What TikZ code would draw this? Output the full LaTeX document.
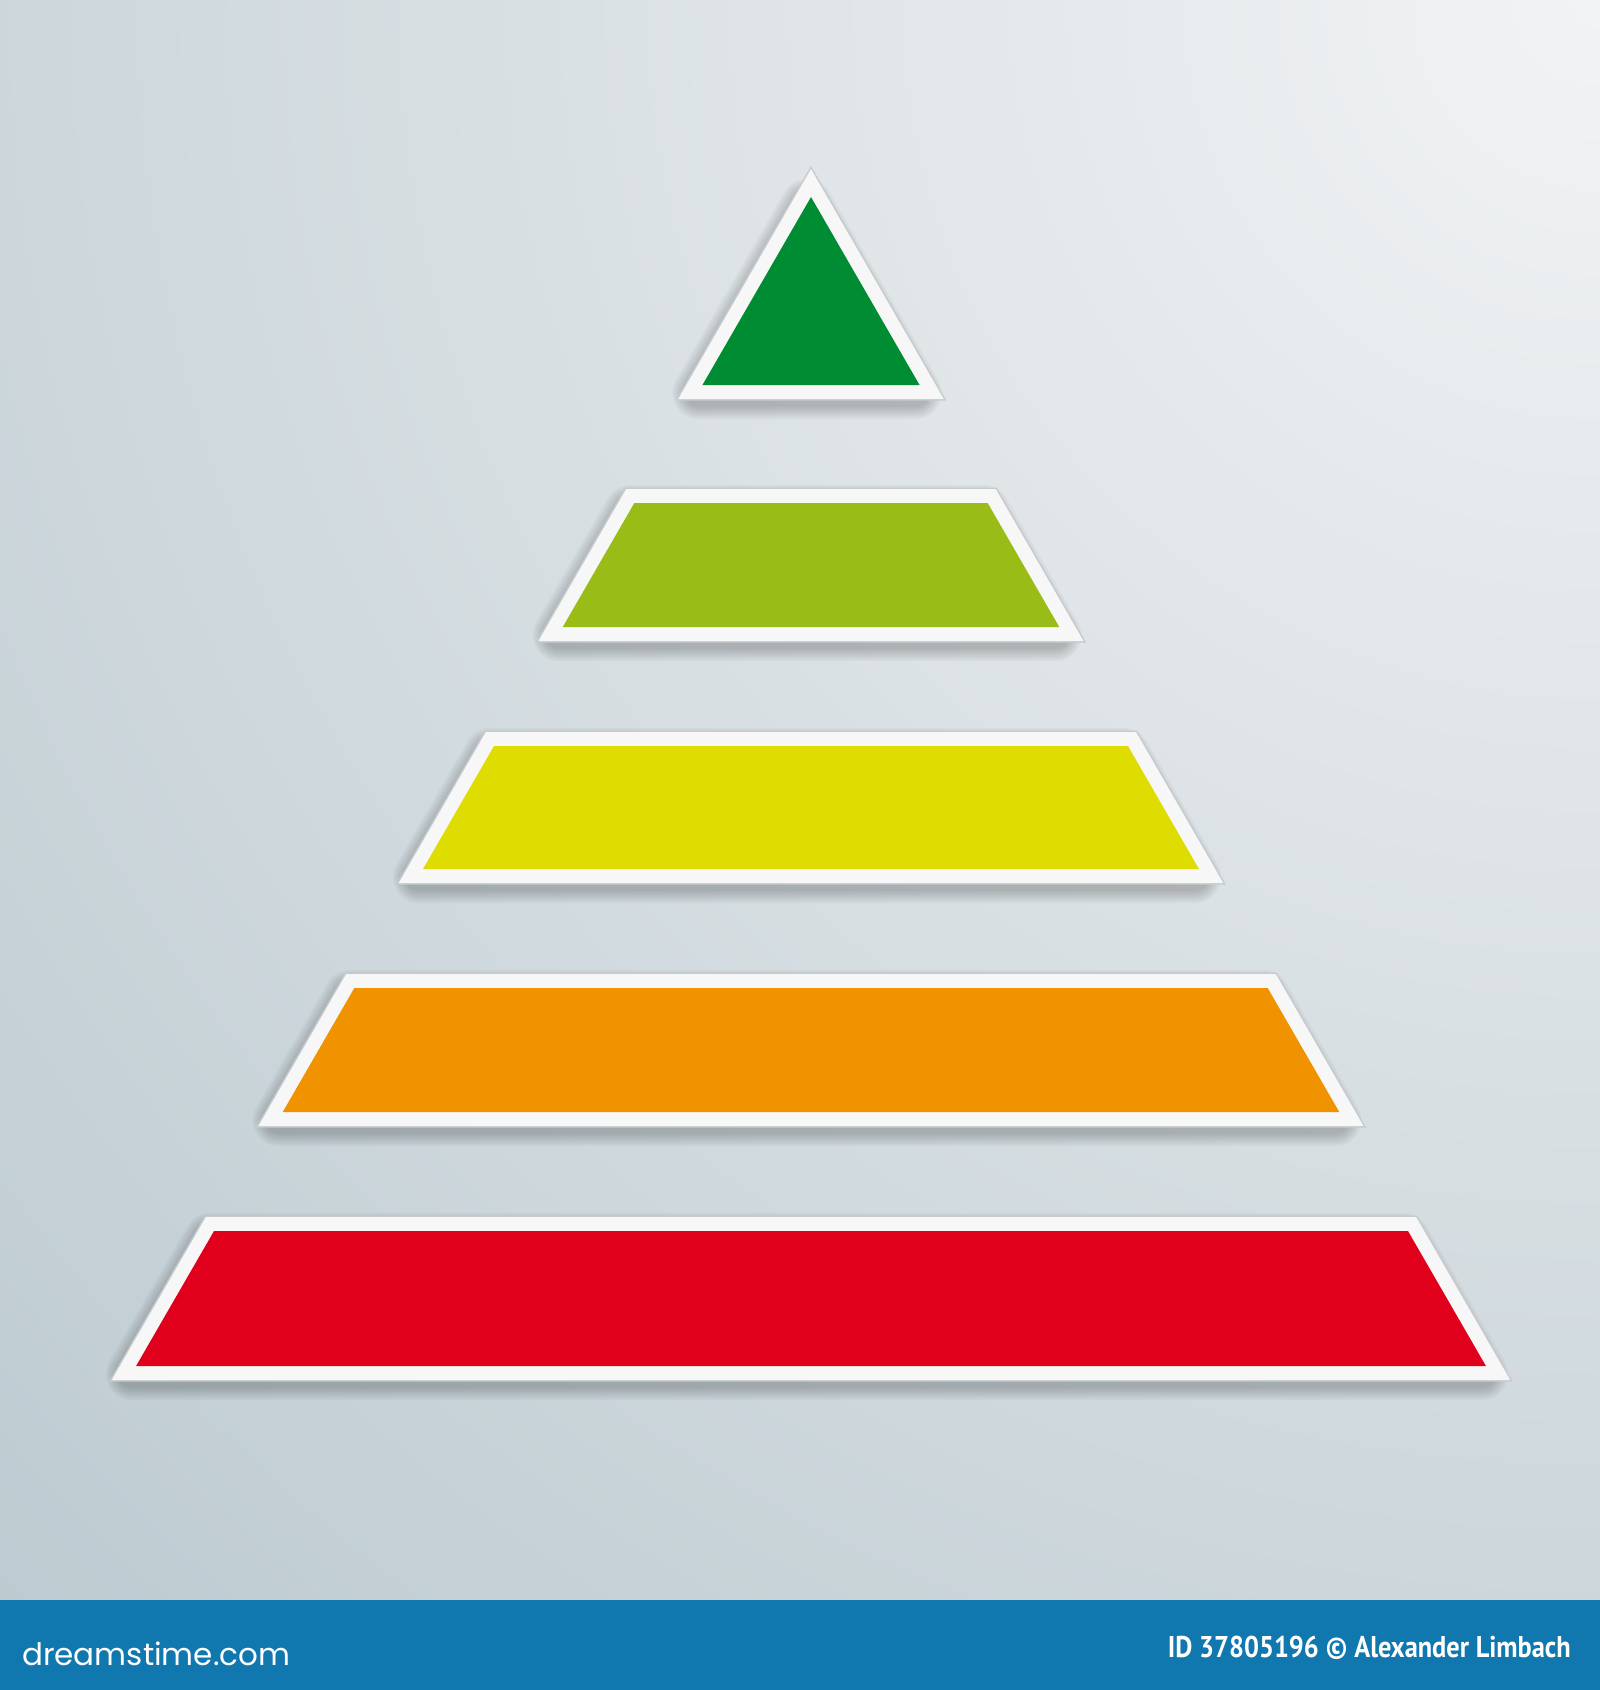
\documentclass[tikz,border=0pt]{standalone}
\usepackage{fontspec}
\newfontfamily\brandfont{Poppins}
\newfontfamily\creditfont[FakeStretch=0.88]{PT Sans}

\definecolor{bgtop}{RGB}{242,243,244}
\definecolor{bgbottom}{RGB}{176,193,201}
\definecolor{footblue}{RGB}{16,119,175}
\definecolor{rimgray}{RGB}{198,203,206}
\definecolor{rimwhite}{RGB}{247,247,247}
\definecolor{tipgreen}{RGB}{0,140,50}
\definecolor{leafgreen}{RGB}{153,189,22}
\definecolor{lemon}{RGB}{222,220,0}
\definecolor{amber}{RGB}{241,147,0}
\definecolor{signalred}{RGB}{224,0,27}

\tikzset{
    layershadow/.style={draw=black, line width=#1, line join=round, opacity=0.03},
    layerrim/.style={draw=rimgray, line width=31pt, line join=miter},
    layerband/.style={draw=rimwhite, line width=28pt, line join=miter},
    footertext/.style={text=white, inner sep=0pt}
}

% one band of the pyramid: name, top y, bottom y, colour
\newcommand{\pyrlayer}[4]{%
    \coordinate (#1-tl) at ({811-(#2-197)*0.57735},#2);
    \coordinate (#1-tr) at ({811+(#2-197)*0.57735},#2);
    \coordinate (#1-br) at ({811+(#3-197)*0.57735},#3);
    \coordinate (#1-bl) at ({811-(#3-197)*0.57735},#3);
    \begin{scope}[transform canvas={xshift=-4pt,yshift=-8pt}]
        \foreach \w in {28,32,...,52}
            \draw[layershadow=\w pt] (#1-tl) -- (#1-tr) -- (#1-br) -- (#1-bl) -- cycle;
    \end{scope}
    \draw[layerrim] (#1-tl) -- (#1-tr) -- (#1-br) -- (#1-bl) -- cycle;
    \draw[layerband] (#1-tl) -- (#1-tr) -- (#1-br) -- (#1-bl) -- cycle;
    \fill[#4] (#1-tl) -- (#1-tr) -- (#1-br) -- (#1-bl) -- cycle;
}

\begin{document}
\begin{tikzpicture}[x=1pt,y=-1pt]
    \useasboundingbox (0,0) rectangle (1600,1690);
    % backdrop
    \begin{scope}
        \clip (0,0) rectangle (1600,1600);
        \fill[bgbottom] (0,0) rectangle (1600,1600);
        \shade[inner color=bgtop, outer color=bgbottom] (1600,0) circle (2800);
    \end{scope}

    % top triangle
    \coordinate (tip) at (811,197);
    \coordinate (tip-br) at ({811+188*0.57735},385);
    \coordinate (tip-bl) at ({811-188*0.57735},385);
    \begin{scope}[transform canvas={xshift=-4pt,yshift=-8pt}]
        \foreach \w in {28,32,...,52}
            \draw[layershadow=\w pt] (tip) -- (tip-br) -- (tip-bl) -- cycle;
    \end{scope}
    \draw[layerrim] (tip) -- (tip-br) -- (tip-bl) -- cycle;
    \draw[layerband] (tip) -- (tip-br) -- (tip-bl) -- cycle;
    \fill[tipgreen] (tip) -- (tip-br) -- (tip-bl) -- cycle;

    % the four bands below it
    \pyrlayer{second}{503}{627}{leafgreen}
    \pyrlayer{third}{746}{869}{lemon}
    \pyrlayer{fourth}{988}{1112}{amber}
    \pyrlayer{base}{1231}{1366}{signalred}

    % footer
    \fill[footblue] (0,1600) rectangle (1600,1690);
    \node[footertext, anchor=base west, font=\brandfont\fontsize{31}{31}\selectfont] (brand) at (22,1665) {dreamstime.com};
    \node[footertext, anchor=base east, font=\creditfont\bfseries\fontsize{30}{30}\selectfont] (credit) at (1571,1657) {ID 37805196 © Alexander Limbach};
\end{tikzpicture}
\end{document}
